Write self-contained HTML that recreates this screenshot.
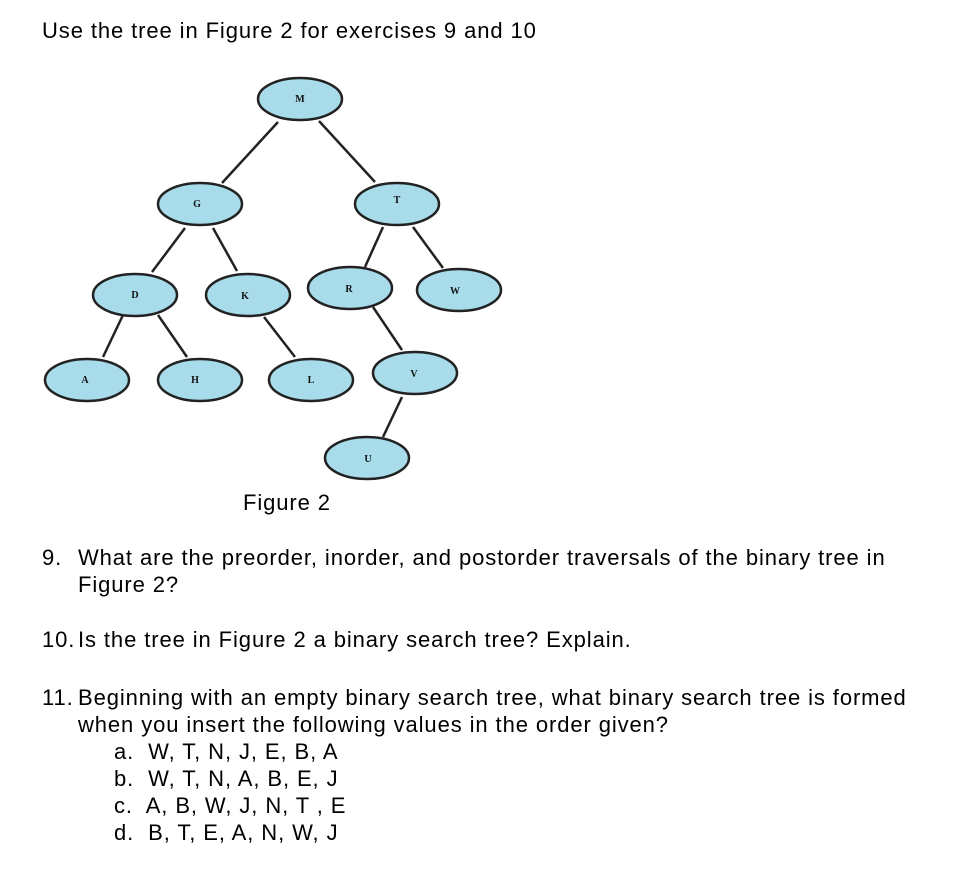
<!DOCTYPE html>
<html><head><meta charset="utf-8"><style>
body{margin:0;width:966px;height:892px;background:#fff;font-family:"Liberation Sans",Arial,sans-serif;color:#000;position:relative;overflow:hidden}
.t{position:absolute;font-size:22px;letter-spacing:0.9px;white-space:nowrap;line-height:27px}
svg{position:absolute;left:0;top:0}
</style></head><body>
<div class="t" style="left:42px;top:17px">Use the tree in Figure 2 for exercises 9 and 10</div>
<svg width="966" height="520">
<g stroke="#222" stroke-width="2.5">
<line x1="278" y1="122" x2="222" y2="183"/>
<line x1="319" y1="121" x2="375" y2="182"/>
<line x1="185" y1="228" x2="152" y2="272"/>
<line x1="213" y1="228" x2="237" y2="271"/>
<line x1="383" y1="227" x2="365" y2="267"/>
<line x1="413" y1="227" x2="443" y2="268"/>
<line x1="123" y1="315" x2="103" y2="357"/>
<line x1="158" y1="315" x2="187" y2="357"/>
<line x1="264" y1="317" x2="295" y2="357"/>
<line x1="373" y1="307" x2="402" y2="350"/>
<line x1="402" y1="397" x2="383" y2="437"/>
</g>
<g fill="#a8dcea" stroke="#222" stroke-width="2.5">
<ellipse cx="300" cy="99" rx="42" ry="21"/>
<ellipse cx="200" cy="204" rx="42" ry="21"/>
<ellipse cx="397" cy="204" rx="42" ry="21"/>
<ellipse cx="135" cy="295" rx="42" ry="21"/>
<ellipse cx="248" cy="295" rx="42" ry="21"/>
<ellipse cx="350" cy="288" rx="42" ry="21"/>
<ellipse cx="459" cy="290" rx="42" ry="21"/>
<ellipse cx="87" cy="380" rx="42" ry="21"/>
<ellipse cx="200" cy="380" rx="42" ry="21"/>
<ellipse cx="311" cy="380" rx="42" ry="21"/>
<ellipse cx="415" cy="373" rx="42" ry="21"/>
<ellipse cx="367" cy="458" rx="42" ry="21"/>
</g>
<g font-family="Liberation Serif,serif" font-weight="bold" font-size="10" text-anchor="middle" fill="#111">
<text x="300" y="102">M</text><text x="197" y="207">G</text><text x="397" y="203">T</text>
<text x="135" y="298">D</text><text x="245" y="299">K</text><text x="349" y="292">R</text>
<text x="455" y="294">W</text><text x="85" y="383">A</text><text x="195" y="383">H</text>
<text x="311" y="383">L</text><text x="414" y="377">V</text><text x="368" y="462">U</text>
</g>
</svg>
<div class="t" style="left:243px;top:489px">Figure 2</div>
<div class="t" style="left:42px;top:544px">9.</div>
<div class="t" style="left:78px;top:544px">What are the preorder, inorder, and postorder traversals of the binary tree in</div>
<div class="t" style="left:78px;top:571px">Figure 2?</div>
<div class="t" style="left:42px;top:626px">10.</div>
<div class="t" style="left:78px;top:626px">Is the tree in Figure 2 a binary search tree? Explain.</div>
<div class="t" style="left:42px;top:684px">11.</div>
<div class="t" style="left:78px;top:684px">Beginning with an empty binary search tree, what binary search tree is formed</div>
<div class="t" style="left:78px;top:711px">when you insert the following values in the order given?</div>
<div class="t" style="left:114px;top:738px">a.&nbsp; W, T, N, J, E, B, A</div>
<div class="t" style="left:114px;top:765px">b.&nbsp; W, T, N, A, B, E, J</div>
<div class="t" style="left:114px;top:792px">c.&nbsp; A, B, W, J, N, T , E</div>
<div class="t" style="left:114px;top:819px">d.&nbsp; B, T, E, A, N, W, J</div>
</body></html>
